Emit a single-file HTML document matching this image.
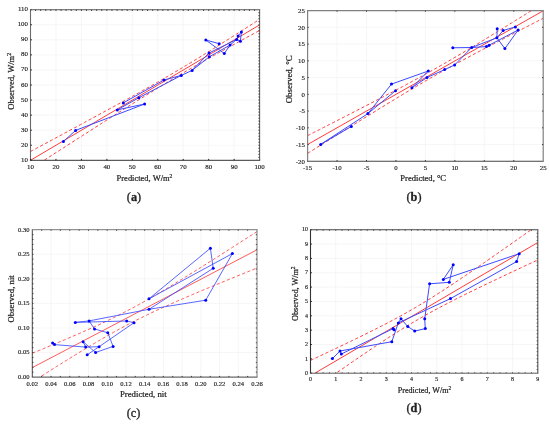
<!DOCTYPE html>
<html><head><meta charset="utf-8"><style>
html,body{margin:0;padding:0;background:#fff;}
svg{display:block;filter:blur(0.35px);}
</style></head><body>
<svg width="550" height="424" viewBox="0 0 550 424" font-family="'Liberation Serif', 'DejaVu Serif', serif" fill="#222">
<style>text{stroke:#222;stroke-width:0.16px;} text.t{stroke-width:0.22px;} text.p{stroke-width:0.3px;}</style>
<rect width="550" height="424" fill="#fff"/>
<clipPath id="ca"><rect x="30.5" y="9.7" width="229.10000000000002" height="150.60000000000002"/></clipPath>
<line x1="55.96" y1="9.7" x2="55.96" y2="160.3" stroke="#f4f4f4" stroke-width="0.8"/>
<line x1="81.41" y1="9.7" x2="81.41" y2="160.3" stroke="#f4f4f4" stroke-width="0.8"/>
<line x1="106.87" y1="9.7" x2="106.87" y2="160.3" stroke="#f4f4f4" stroke-width="0.8"/>
<line x1="132.32" y1="9.7" x2="132.32" y2="160.3" stroke="#f4f4f4" stroke-width="0.8"/>
<line x1="157.78" y1="9.7" x2="157.78" y2="160.3" stroke="#f4f4f4" stroke-width="0.8"/>
<line x1="183.23" y1="9.7" x2="183.23" y2="160.3" stroke="#f4f4f4" stroke-width="0.8"/>
<line x1="208.69" y1="9.7" x2="208.69" y2="160.3" stroke="#f4f4f4" stroke-width="0.8"/>
<line x1="234.14" y1="9.7" x2="234.14" y2="160.3" stroke="#f4f4f4" stroke-width="0.8"/>
<line x1="30.5" y1="145.24" x2="259.6" y2="145.24" stroke="#f4f4f4" stroke-width="0.8"/>
<line x1="30.5" y1="130.18" x2="259.6" y2="130.18" stroke="#f4f4f4" stroke-width="0.8"/>
<line x1="30.5" y1="115.12" x2="259.6" y2="115.12" stroke="#f4f4f4" stroke-width="0.8"/>
<line x1="30.5" y1="100.06" x2="259.6" y2="100.06" stroke="#f4f4f4" stroke-width="0.8"/>
<line x1="30.5" y1="85.00" x2="259.6" y2="85.00" stroke="#f4f4f4" stroke-width="0.8"/>
<line x1="30.5" y1="69.94" x2="259.6" y2="69.94" stroke="#f4f4f4" stroke-width="0.8"/>
<line x1="30.5" y1="54.88" x2="259.6" y2="54.88" stroke="#f4f4f4" stroke-width="0.8"/>
<line x1="30.5" y1="39.82" x2="259.6" y2="39.82" stroke="#f4f4f4" stroke-width="0.8"/>
<line x1="30.5" y1="24.76" x2="259.6" y2="24.76" stroke="#f4f4f4" stroke-width="0.8"/>
<line x1="30.5" y1="160.3" x2="259.6" y2="24.9" stroke="#ff3c3c" stroke-width="1.0" clip-path="url(#ca)"/>
<polyline points="30.50,151.52 32.43,150.49 34.35,149.45 36.28,148.42 38.20,147.39 40.13,146.35 42.05,145.32 43.98,144.28 45.90,143.25 47.83,142.21 49.75,141.18 51.68,140.14 53.60,139.11 55.53,138.07 57.45,137.04 59.38,136.00 61.30,134.96 63.23,133.93 65.15,132.89 67.08,131.85 69.00,130.81 70.93,129.78 72.85,128.74 74.78,127.70 76.71,126.66 78.63,125.62 80.56,124.58 82.48,123.54 84.41,122.50 86.33,121.46 88.26,120.42 90.18,119.38 92.11,118.33 94.03,117.29 95.96,116.25 97.88,115.20 99.81,114.16 101.73,113.11 103.66,112.07 105.58,111.02 107.51,109.97 109.43,108.92 111.36,107.87 113.28,106.82 115.21,105.77 117.13,104.72 119.06,103.66 120.98,102.61 122.91,101.55 124.84,100.49 126.76,99.43 128.69,98.37 130.61,97.31 132.54,96.25 134.46,95.18 136.39,94.11 138.31,93.04 140.24,91.97 142.16,90.90 144.09,89.82 146.01,88.74 147.94,87.66 149.86,86.58 151.79,85.49 153.71,84.40 155.64,83.30 157.56,82.20 159.49,81.10 161.41,80.00 163.34,78.89 165.26,77.78 167.19,76.66 169.12,75.54 171.04,74.42 172.97,73.29 174.89,72.15 176.82,71.02 178.74,69.87 180.67,68.73 182.59,67.58 184.52,66.42 186.44,65.26 188.37,64.10 190.29,62.93 192.22,61.76 194.14,60.59 196.07,59.41 197.99,58.23 199.92,57.05 201.84,55.86 203.77,54.67 205.69,53.47 207.62,52.28 209.54,51.08 211.47,49.88 213.39,48.67 215.32,47.47 217.25,46.26 219.17,45.05 221.10,43.84 223.02,42.63 224.95,41.41 226.87,40.20 228.80,38.98 230.72,37.76 232.65,36.54 234.57,35.32 236.50,34.09 238.42,32.87 240.35,31.64 242.27,30.42 244.20,29.19 246.12,27.96 248.05,26.74 249.97,25.51 251.90,24.28 253.82,23.05 255.75,21.81 257.67,20.58 259.60,19.35" fill="none" stroke="#ff3c3c" stroke-width="1.0" stroke-dasharray="3.2,2.3" clip-path="url(#ca)"/>
<polyline points="30.50,169.08 32.43,167.84 34.35,166.60 36.28,165.35 38.20,164.11 40.13,162.87 42.05,161.63 43.98,160.39 45.90,159.15 47.83,157.91 49.75,156.67 51.68,155.43 53.60,154.19 55.53,152.95 57.45,151.71 59.38,150.47 61.30,149.23 63.23,147.99 65.15,146.75 67.08,145.51 69.00,144.27 70.93,143.04 72.85,141.80 74.78,140.56 76.71,139.32 78.63,138.09 80.56,136.85 82.48,135.62 84.41,134.38 86.33,133.15 88.26,131.91 90.18,130.68 92.11,129.45 94.03,128.21 95.96,126.98 97.88,125.75 99.81,124.52 101.73,123.29 103.66,122.06 105.58,120.83 107.51,119.60 109.43,118.38 111.36,117.15 113.28,115.93 115.21,114.70 117.13,113.48 119.06,112.26 120.98,111.04 122.91,109.82 124.84,108.60 126.76,107.38 128.69,106.17 130.61,104.96 132.54,103.74 134.46,102.53 136.39,101.33 138.31,100.12 140.24,98.92 142.16,97.72 144.09,96.52 146.01,95.32 147.94,94.13 149.86,92.94 151.79,91.75 153.71,90.56 155.64,89.38 157.56,88.20 159.49,87.03 161.41,85.86 163.34,84.69 165.26,83.53 167.19,82.37 169.12,81.21 171.04,80.06 172.97,78.92 174.89,77.77 176.82,76.64 178.74,75.50 180.67,74.37 182.59,73.25 184.52,72.13 186.44,71.01 188.37,69.90 190.29,68.79 192.22,67.68 194.14,66.58 196.07,65.48 197.99,64.39 199.92,63.30 201.84,62.21 203.77,61.13 205.69,60.04 207.62,58.96 209.54,57.89 211.47,56.81 213.39,55.74 215.32,54.67 217.25,53.60 219.17,52.54 221.10,51.47 223.02,50.41 224.95,49.35 226.87,48.29 228.80,47.23 230.72,46.18 232.65,45.12 234.57,44.07 236.50,43.01 238.42,41.96 240.35,40.91 242.27,39.86 244.20,38.81 246.12,37.77 248.05,36.72 249.97,35.67 251.90,34.63 253.82,33.58 255.75,32.54 257.67,31.49 259.60,30.45" fill="none" stroke="#ff3c3c" stroke-width="1.0" stroke-dasharray="3.2,2.3" clip-path="url(#ca)"/>
<polyline points="63.40,141.60 75.60,130.40 144.60,104.00 117.30,109.90 138.90,97.70 181.30,75.40 192.10,70.40 209.30,56.80 230.10,45.00 236.70,39.40 238.10,35.90 241.40,32.00 240.40,41.20 236.70,39.40" fill="none" stroke="#3b4bff" stroke-width="1.0" stroke-linejoin="round"/>
<polyline points="123.30,102.90 164.00,80.00 181.30,75.40" fill="none" stroke="#3b4bff" stroke-width="1.0" stroke-linejoin="round"/>
<polyline points="192.10,70.40 209.00,53.00 236.70,39.40" fill="none" stroke="#3b4bff" stroke-width="1.0" stroke-linejoin="round"/>
<polyline points="205.80,40.00 219.20,43.70" fill="none" stroke="#3b4bff" stroke-width="1.0" stroke-linejoin="round"/>
<polyline points="205.80,40.00 224.30,53.50 230.10,45.00" fill="none" stroke="#3b4bff" stroke-width="1.0" stroke-linejoin="round"/>
<circle cx="63.40" cy="141.60" r="1.5" fill="#0000ff"/>
<circle cx="75.60" cy="130.40" r="1.5" fill="#0000ff"/>
<circle cx="117.30" cy="109.90" r="1.5" fill="#0000ff"/>
<circle cx="123.30" cy="102.90" r="1.5" fill="#0000ff"/>
<circle cx="144.60" cy="104.00" r="1.5" fill="#0000ff"/>
<circle cx="138.90" cy="97.70" r="1.5" fill="#0000ff"/>
<circle cx="164.00" cy="80.00" r="1.5" fill="#0000ff"/>
<circle cx="181.30" cy="75.40" r="1.5" fill="#0000ff"/>
<circle cx="192.10" cy="70.40" r="1.5" fill="#0000ff"/>
<circle cx="209.00" cy="53.00" r="1.5" fill="#0000ff"/>
<circle cx="209.30" cy="56.80" r="1.5" fill="#0000ff"/>
<circle cx="205.80" cy="40.00" r="1.5" fill="#0000ff"/>
<circle cx="219.20" cy="43.70" r="1.5" fill="#0000ff"/>
<circle cx="224.30" cy="53.50" r="1.5" fill="#0000ff"/>
<circle cx="230.10" cy="45.00" r="1.5" fill="#0000ff"/>
<circle cx="236.70" cy="39.40" r="1.5" fill="#0000ff"/>
<circle cx="238.10" cy="35.90" r="1.5" fill="#0000ff"/>
<circle cx="241.40" cy="32.00" r="1.5" fill="#0000ff"/>
<circle cx="240.40" cy="41.20" r="1.5" fill="#0000ff"/>
<line x1="30.5" y1="9.7" x2="30.5" y2="160.3" stroke="#6a6a6a" stroke-width="1.1"/>
<line x1="30.5" y1="160.30" x2="31.9" y2="160.30" stroke="#222" stroke-width="1.0"/>
<line x1="30.5" y1="145.24" x2="31.9" y2="145.24" stroke="#222" stroke-width="1.0"/>
<line x1="30.5" y1="130.18" x2="31.9" y2="130.18" stroke="#222" stroke-width="1.0"/>
<line x1="30.5" y1="115.12" x2="31.9" y2="115.12" stroke="#222" stroke-width="1.0"/>
<line x1="30.5" y1="100.06" x2="31.9" y2="100.06" stroke="#222" stroke-width="1.0"/>
<line x1="30.5" y1="85.00" x2="31.9" y2="85.00" stroke="#222" stroke-width="1.0"/>
<line x1="30.5" y1="69.94" x2="31.9" y2="69.94" stroke="#222" stroke-width="1.0"/>
<line x1="30.5" y1="54.88" x2="31.9" y2="54.88" stroke="#222" stroke-width="1.0"/>
<line x1="30.5" y1="39.82" x2="31.9" y2="39.82" stroke="#222" stroke-width="1.0"/>
<line x1="30.5" y1="24.76" x2="31.9" y2="24.76" stroke="#222" stroke-width="1.0"/>
<line x1="30.5" y1="9.70" x2="31.9" y2="9.70" stroke="#222" stroke-width="1.0"/>
<line x1="29.95" y1="160.3" x2="260.15000000000003" y2="160.3" stroke="#333" stroke-width="1.0"/>
<line x1="30.50" y1="160.3" x2="30.50" y2="158.9" stroke="#222" stroke-width="1.0"/>
<line x1="55.96" y1="160.3" x2="55.96" y2="158.9" stroke="#222" stroke-width="1.0"/>
<line x1="81.41" y1="160.3" x2="81.41" y2="158.9" stroke="#222" stroke-width="1.0"/>
<line x1="106.87" y1="160.3" x2="106.87" y2="158.9" stroke="#222" stroke-width="1.0"/>
<line x1="132.32" y1="160.3" x2="132.32" y2="158.9" stroke="#222" stroke-width="1.0"/>
<line x1="157.78" y1="160.3" x2="157.78" y2="158.9" stroke="#222" stroke-width="1.0"/>
<line x1="183.23" y1="160.3" x2="183.23" y2="158.9" stroke="#222" stroke-width="1.0"/>
<line x1="208.69" y1="160.3" x2="208.69" y2="158.9" stroke="#222" stroke-width="1.0"/>
<line x1="234.14" y1="160.3" x2="234.14" y2="158.9" stroke="#222" stroke-width="1.0"/>
<line x1="259.60" y1="160.3" x2="259.60" y2="158.9" stroke="#222" stroke-width="1.0"/>
<line x1="259.6" y1="9.7" x2="259.6" y2="160.3" stroke="#666" stroke-width="1.1"/>
<line x1="259.6" y1="157.29" x2="258.40000000000003" y2="157.29" stroke="#222" stroke-width="0.9"/>
<line x1="259.6" y1="154.28" x2="258.40000000000003" y2="154.28" stroke="#222" stroke-width="0.9"/>
<line x1="259.6" y1="151.26" x2="258.40000000000003" y2="151.26" stroke="#222" stroke-width="0.9"/>
<line x1="259.6" y1="148.25" x2="258.40000000000003" y2="148.25" stroke="#222" stroke-width="0.9"/>
<line x1="259.6" y1="145.24" x2="258.40000000000003" y2="145.24" stroke="#222" stroke-width="0.9"/>
<line x1="259.6" y1="142.23" x2="258.40000000000003" y2="142.23" stroke="#222" stroke-width="0.9"/>
<line x1="259.6" y1="139.22" x2="258.40000000000003" y2="139.22" stroke="#222" stroke-width="0.9"/>
<line x1="259.6" y1="136.20" x2="258.40000000000003" y2="136.20" stroke="#222" stroke-width="0.9"/>
<line x1="259.6" y1="133.19" x2="258.40000000000003" y2="133.19" stroke="#222" stroke-width="0.9"/>
<line x1="259.6" y1="130.18" x2="258.40000000000003" y2="130.18" stroke="#222" stroke-width="0.9"/>
<line x1="259.6" y1="127.17" x2="258.40000000000003" y2="127.17" stroke="#222" stroke-width="0.9"/>
<line x1="259.6" y1="124.16" x2="258.40000000000003" y2="124.16" stroke="#222" stroke-width="0.9"/>
<line x1="259.6" y1="121.14" x2="258.40000000000003" y2="121.14" stroke="#222" stroke-width="0.9"/>
<line x1="259.6" y1="118.13" x2="258.40000000000003" y2="118.13" stroke="#222" stroke-width="0.9"/>
<line x1="259.6" y1="115.12" x2="258.40000000000003" y2="115.12" stroke="#222" stroke-width="0.9"/>
<line x1="259.6" y1="112.11" x2="258.40000000000003" y2="112.11" stroke="#222" stroke-width="0.9"/>
<line x1="259.6" y1="109.10" x2="258.40000000000003" y2="109.10" stroke="#222" stroke-width="0.9"/>
<line x1="259.6" y1="106.08" x2="258.40000000000003" y2="106.08" stroke="#222" stroke-width="0.9"/>
<line x1="259.6" y1="103.07" x2="258.40000000000003" y2="103.07" stroke="#222" stroke-width="0.9"/>
<line x1="259.6" y1="100.06" x2="258.40000000000003" y2="100.06" stroke="#222" stroke-width="0.9"/>
<line x1="259.6" y1="97.05" x2="258.40000000000003" y2="97.05" stroke="#222" stroke-width="0.9"/>
<line x1="259.6" y1="94.04" x2="258.40000000000003" y2="94.04" stroke="#222" stroke-width="0.9"/>
<line x1="259.6" y1="91.02" x2="258.40000000000003" y2="91.02" stroke="#222" stroke-width="0.9"/>
<line x1="259.6" y1="88.01" x2="258.40000000000003" y2="88.01" stroke="#222" stroke-width="0.9"/>
<line x1="259.6" y1="85.00" x2="258.40000000000003" y2="85.00" stroke="#222" stroke-width="0.9"/>
<line x1="259.6" y1="81.99" x2="258.40000000000003" y2="81.99" stroke="#222" stroke-width="0.9"/>
<line x1="259.6" y1="78.98" x2="258.40000000000003" y2="78.98" stroke="#222" stroke-width="0.9"/>
<line x1="259.6" y1="75.96" x2="258.40000000000003" y2="75.96" stroke="#222" stroke-width="0.9"/>
<line x1="259.6" y1="72.95" x2="258.40000000000003" y2="72.95" stroke="#222" stroke-width="0.9"/>
<line x1="259.6" y1="69.94" x2="258.40000000000003" y2="69.94" stroke="#222" stroke-width="0.9"/>
<line x1="259.6" y1="66.93" x2="258.40000000000003" y2="66.93" stroke="#222" stroke-width="0.9"/>
<line x1="259.6" y1="63.92" x2="258.40000000000003" y2="63.92" stroke="#222" stroke-width="0.9"/>
<line x1="259.6" y1="60.90" x2="258.40000000000003" y2="60.90" stroke="#222" stroke-width="0.9"/>
<line x1="259.6" y1="57.89" x2="258.40000000000003" y2="57.89" stroke="#222" stroke-width="0.9"/>
<line x1="259.6" y1="54.88" x2="258.40000000000003" y2="54.88" stroke="#222" stroke-width="0.9"/>
<line x1="259.6" y1="51.87" x2="258.40000000000003" y2="51.87" stroke="#222" stroke-width="0.9"/>
<line x1="259.6" y1="48.86" x2="258.40000000000003" y2="48.86" stroke="#222" stroke-width="0.9"/>
<line x1="259.6" y1="45.84" x2="258.40000000000003" y2="45.84" stroke="#222" stroke-width="0.9"/>
<line x1="259.6" y1="42.83" x2="258.40000000000003" y2="42.83" stroke="#222" stroke-width="0.9"/>
<line x1="259.6" y1="39.82" x2="258.40000000000003" y2="39.82" stroke="#222" stroke-width="0.9"/>
<line x1="259.6" y1="36.81" x2="258.40000000000003" y2="36.81" stroke="#222" stroke-width="0.9"/>
<line x1="259.6" y1="33.80" x2="258.40000000000003" y2="33.80" stroke="#222" stroke-width="0.9"/>
<line x1="259.6" y1="30.78" x2="258.40000000000003" y2="30.78" stroke="#222" stroke-width="0.9"/>
<line x1="259.6" y1="27.77" x2="258.40000000000003" y2="27.77" stroke="#222" stroke-width="0.9"/>
<line x1="259.6" y1="24.76" x2="258.40000000000003" y2="24.76" stroke="#222" stroke-width="0.9"/>
<line x1="259.6" y1="21.75" x2="258.40000000000003" y2="21.75" stroke="#222" stroke-width="0.9"/>
<line x1="259.6" y1="18.74" x2="258.40000000000003" y2="18.74" stroke="#222" stroke-width="0.9"/>
<line x1="259.6" y1="15.72" x2="258.40000000000003" y2="15.72" stroke="#222" stroke-width="0.9"/>
<line x1="259.6" y1="12.71" x2="258.40000000000003" y2="12.71" stroke="#222" stroke-width="0.9"/>
<line x1="29.95" y1="9.7" x2="260.15000000000003" y2="9.7" stroke="#555" stroke-width="1.1"/>
<line x1="35.59" y1="9.7" x2="35.59" y2="10.899999999999999" stroke="#222" stroke-width="0.9"/>
<line x1="40.68" y1="9.7" x2="40.68" y2="10.899999999999999" stroke="#222" stroke-width="0.9"/>
<line x1="45.77" y1="9.7" x2="45.77" y2="10.899999999999999" stroke="#222" stroke-width="0.9"/>
<line x1="50.86" y1="9.7" x2="50.86" y2="10.899999999999999" stroke="#222" stroke-width="0.9"/>
<line x1="55.96" y1="9.7" x2="55.96" y2="10.899999999999999" stroke="#222" stroke-width="0.9"/>
<line x1="61.05" y1="9.7" x2="61.05" y2="10.899999999999999" stroke="#222" stroke-width="0.9"/>
<line x1="66.14" y1="9.7" x2="66.14" y2="10.899999999999999" stroke="#222" stroke-width="0.9"/>
<line x1="71.23" y1="9.7" x2="71.23" y2="10.899999999999999" stroke="#222" stroke-width="0.9"/>
<line x1="76.32" y1="9.7" x2="76.32" y2="10.899999999999999" stroke="#222" stroke-width="0.9"/>
<line x1="81.41" y1="9.7" x2="81.41" y2="10.899999999999999" stroke="#222" stroke-width="0.9"/>
<line x1="86.50" y1="9.7" x2="86.50" y2="10.899999999999999" stroke="#222" stroke-width="0.9"/>
<line x1="91.59" y1="9.7" x2="91.59" y2="10.899999999999999" stroke="#222" stroke-width="0.9"/>
<line x1="96.68" y1="9.7" x2="96.68" y2="10.899999999999999" stroke="#222" stroke-width="0.9"/>
<line x1="101.78" y1="9.7" x2="101.78" y2="10.899999999999999" stroke="#222" stroke-width="0.9"/>
<line x1="106.87" y1="9.7" x2="106.87" y2="10.899999999999999" stroke="#222" stroke-width="0.9"/>
<line x1="111.96" y1="9.7" x2="111.96" y2="10.899999999999999" stroke="#222" stroke-width="0.9"/>
<line x1="117.05" y1="9.7" x2="117.05" y2="10.899999999999999" stroke="#222" stroke-width="0.9"/>
<line x1="122.14" y1="9.7" x2="122.14" y2="10.899999999999999" stroke="#222" stroke-width="0.9"/>
<line x1="127.23" y1="9.7" x2="127.23" y2="10.899999999999999" stroke="#222" stroke-width="0.9"/>
<line x1="132.32" y1="9.7" x2="132.32" y2="10.899999999999999" stroke="#222" stroke-width="0.9"/>
<line x1="137.41" y1="9.7" x2="137.41" y2="10.899999999999999" stroke="#222" stroke-width="0.9"/>
<line x1="142.50" y1="9.7" x2="142.50" y2="10.899999999999999" stroke="#222" stroke-width="0.9"/>
<line x1="147.60" y1="9.7" x2="147.60" y2="10.899999999999999" stroke="#222" stroke-width="0.9"/>
<line x1="152.69" y1="9.7" x2="152.69" y2="10.899999999999999" stroke="#222" stroke-width="0.9"/>
<line x1="157.78" y1="9.7" x2="157.78" y2="10.899999999999999" stroke="#222" stroke-width="0.9"/>
<line x1="162.87" y1="9.7" x2="162.87" y2="10.899999999999999" stroke="#222" stroke-width="0.9"/>
<line x1="167.96" y1="9.7" x2="167.96" y2="10.899999999999999" stroke="#222" stroke-width="0.9"/>
<line x1="173.05" y1="9.7" x2="173.05" y2="10.899999999999999" stroke="#222" stroke-width="0.9"/>
<line x1="178.14" y1="9.7" x2="178.14" y2="10.899999999999999" stroke="#222" stroke-width="0.9"/>
<line x1="183.23" y1="9.7" x2="183.23" y2="10.899999999999999" stroke="#222" stroke-width="0.9"/>
<line x1="188.32" y1="9.7" x2="188.32" y2="10.899999999999999" stroke="#222" stroke-width="0.9"/>
<line x1="193.42" y1="9.7" x2="193.42" y2="10.899999999999999" stroke="#222" stroke-width="0.9"/>
<line x1="198.51" y1="9.7" x2="198.51" y2="10.899999999999999" stroke="#222" stroke-width="0.9"/>
<line x1="203.60" y1="9.7" x2="203.60" y2="10.899999999999999" stroke="#222" stroke-width="0.9"/>
<line x1="208.69" y1="9.7" x2="208.69" y2="10.899999999999999" stroke="#222" stroke-width="0.9"/>
<line x1="213.78" y1="9.7" x2="213.78" y2="10.899999999999999" stroke="#222" stroke-width="0.9"/>
<line x1="218.87" y1="9.7" x2="218.87" y2="10.899999999999999" stroke="#222" stroke-width="0.9"/>
<line x1="223.96" y1="9.7" x2="223.96" y2="10.899999999999999" stroke="#222" stroke-width="0.9"/>
<line x1="229.05" y1="9.7" x2="229.05" y2="10.899999999999999" stroke="#222" stroke-width="0.9"/>
<line x1="234.14" y1="9.7" x2="234.14" y2="10.899999999999999" stroke="#222" stroke-width="0.9"/>
<line x1="239.24" y1="9.7" x2="239.24" y2="10.899999999999999" stroke="#222" stroke-width="0.9"/>
<line x1="244.33" y1="9.7" x2="244.33" y2="10.899999999999999" stroke="#222" stroke-width="0.9"/>
<line x1="249.42" y1="9.7" x2="249.42" y2="10.899999999999999" stroke="#222" stroke-width="0.9"/>
<line x1="254.51" y1="9.7" x2="254.51" y2="10.899999999999999" stroke="#222" stroke-width="0.9"/>
<text x="30.50" y="169.0" font-size="6.9" text-anchor="middle">10</text>
<text x="55.96" y="169.0" font-size="6.9" text-anchor="middle">20</text>
<text x="81.41" y="169.0" font-size="6.9" text-anchor="middle">30</text>
<text x="106.87" y="169.0" font-size="6.9" text-anchor="middle">40</text>
<text x="132.32" y="169.0" font-size="6.9" text-anchor="middle">50</text>
<text x="157.78" y="169.0" font-size="6.9" text-anchor="middle">60</text>
<text x="183.23" y="169.0" font-size="6.9" text-anchor="middle">70</text>
<text x="208.69" y="169.0" font-size="6.9" text-anchor="middle">80</text>
<text x="234.14" y="169.0" font-size="6.9" text-anchor="middle">90</text>
<text x="259.60" y="169.0" font-size="6.9" text-anchor="middle">100</text>
<text x="28.0" y="161.80" font-size="6.9" text-anchor="end">10</text>
<text x="28.0" y="146.74" font-size="6.9" text-anchor="end">20</text>
<text x="28.0" y="131.68" font-size="6.9" text-anchor="end">30</text>
<text x="28.0" y="116.62" font-size="6.9" text-anchor="end">40</text>
<text x="28.0" y="101.56" font-size="6.9" text-anchor="end">50</text>
<text x="28.0" y="86.50" font-size="6.9" text-anchor="end">60</text>
<text x="28.0" y="71.44" font-size="6.9" text-anchor="end">70</text>
<text x="28.0" y="56.38" font-size="6.9" text-anchor="end">80</text>
<text x="28.0" y="41.32" font-size="6.9" text-anchor="end">90</text>
<text x="28.0" y="26.26" font-size="6.9" text-anchor="end">100</text>
<text x="28.0" y="11.20" font-size="6.9" text-anchor="end">110</text>
<text class="t" x="144.5" y="181" font-size="8.3" text-anchor="middle" textLength="55.8" lengthAdjust="spacingAndGlyphs">Predicted, W/m<tspan font-size="5.5" dy="-3">2</tspan></text>
<text class="t" transform="translate(14.2,81.3) rotate(-90)" font-size="8.3" text-anchor="middle" textLength="56.8" lengthAdjust="spacingAndGlyphs">Observed, W/m<tspan font-size="5.5" dy="-3">2</tspan></text>
<text class="p" x="134" y="201.2" font-size="12.3" text-anchor="middle" stroke="#222" stroke-width="0.2">(<tspan font-weight="bold">a</tspan>)</text>
<clipPath id="cb"><rect x="307.6" y="10.6" width="235.60000000000002" height="150.70000000000002"/></clipPath>
<line x1="337.05" y1="10.6" x2="337.05" y2="161.3" stroke="#f4f4f4" stroke-width="0.8"/>
<line x1="366.50" y1="10.6" x2="366.50" y2="161.3" stroke="#f4f4f4" stroke-width="0.8"/>
<line x1="395.95" y1="10.6" x2="395.95" y2="161.3" stroke="#f4f4f4" stroke-width="0.8"/>
<line x1="425.40" y1="10.6" x2="425.40" y2="161.3" stroke="#f4f4f4" stroke-width="0.8"/>
<line x1="454.85" y1="10.6" x2="454.85" y2="161.3" stroke="#f4f4f4" stroke-width="0.8"/>
<line x1="484.30" y1="10.6" x2="484.30" y2="161.3" stroke="#f4f4f4" stroke-width="0.8"/>
<line x1="513.75" y1="10.6" x2="513.75" y2="161.3" stroke="#f4f4f4" stroke-width="0.8"/>
<line x1="307.6" y1="144.56" x2="543.2" y2="144.56" stroke="#f4f4f4" stroke-width="0.8"/>
<line x1="307.6" y1="127.81" x2="543.2" y2="127.81" stroke="#f4f4f4" stroke-width="0.8"/>
<line x1="307.6" y1="111.07" x2="543.2" y2="111.07" stroke="#f4f4f4" stroke-width="0.8"/>
<line x1="307.6" y1="94.32" x2="543.2" y2="94.32" stroke="#f4f4f4" stroke-width="0.8"/>
<line x1="307.6" y1="77.58" x2="543.2" y2="77.58" stroke="#f4f4f4" stroke-width="0.8"/>
<line x1="307.6" y1="60.83" x2="543.2" y2="60.83" stroke="#f4f4f4" stroke-width="0.8"/>
<line x1="307.6" y1="44.09" x2="543.2" y2="44.09" stroke="#f4f4f4" stroke-width="0.8"/>
<line x1="307.6" y1="27.34" x2="543.2" y2="27.34" stroke="#f4f4f4" stroke-width="0.8"/>
<line x1="307.6" y1="144.5" x2="543.2" y2="10.8" stroke="#ff3c3c" stroke-width="1.0" clip-path="url(#cb)"/>
<polyline points="307.60,135.64 309.58,134.63 311.56,133.62 313.54,132.61 315.52,131.61 317.50,130.60 319.48,129.59 321.46,128.58 323.44,127.57 325.42,126.56 327.40,125.55 329.38,124.54 331.36,123.53 333.34,122.52 335.32,121.50 337.30,120.49 339.28,119.48 341.26,118.47 343.24,117.45 345.22,116.44 347.20,115.42 349.18,114.41 351.16,113.39 353.14,112.37 355.12,111.36 357.10,110.34 359.08,109.32 361.06,108.30 363.04,107.28 365.02,106.26 366.99,105.23 368.97,104.21 370.95,103.19 372.93,102.16 374.91,101.13 376.89,100.10 378.87,99.07 380.85,98.04 382.83,97.01 384.81,95.98 386.79,94.94 388.77,93.90 390.75,92.86 392.73,91.82 394.71,90.78 396.69,89.73 398.67,88.68 400.65,87.63 402.63,86.58 404.61,85.52 406.59,84.46 408.57,83.40 410.55,82.34 412.53,81.27 414.51,80.20 416.49,79.12 418.47,78.04 420.45,76.96 422.43,75.87 424.41,74.78 426.39,73.68 428.37,72.58 430.35,71.48 432.33,70.37 434.31,69.25 436.29,68.13 438.27,67.01 440.25,65.88 442.23,64.75 444.21,63.61 446.19,62.47 448.17,61.32 450.15,60.17 452.13,59.01 454.11,57.85 456.09,56.69 458.07,55.52 460.05,54.35 462.03,53.18 464.01,52.00 465.99,50.81 467.97,49.63 469.95,48.44 471.93,47.25 473.91,46.06 475.89,44.86 477.87,43.66 479.85,42.46 481.83,41.26 483.81,40.05 485.78,38.84 487.76,37.63 489.74,36.42 491.72,35.21 493.70,33.99 495.68,32.78 497.66,31.56 499.64,30.34 501.62,29.12 503.60,27.90 505.58,26.68 507.56,25.45 509.54,24.23 511.52,23.00 513.50,21.78 515.48,20.55 517.46,19.32 519.44,18.09 521.42,16.86 523.40,15.63 525.38,14.40 527.36,13.17 529.34,11.94 531.32,10.71 533.30,9.47 535.28,8.24 537.26,7.01 539.24,5.77 541.22,4.54 543.20,3.30" fill="none" stroke="#ff3c3c" stroke-width="1.0" stroke-dasharray="3.2,2.3" clip-path="url(#cb)"/>
<polyline points="307.60,153.36 309.58,152.12 311.56,150.88 313.54,149.64 315.52,148.41 317.50,147.17 319.48,145.93 321.46,144.69 323.44,143.45 325.42,142.22 327.40,140.98 329.38,139.74 331.36,138.51 333.34,137.27 335.32,136.04 337.30,134.80 339.28,133.57 341.26,132.33 343.24,131.10 345.22,129.87 347.20,128.64 349.18,127.40 351.16,126.17 353.14,124.94 355.12,123.71 357.10,122.48 359.08,121.26 361.06,120.03 363.04,118.80 365.02,117.58 366.99,116.35 368.97,115.13 370.95,113.91 372.93,112.69 374.91,111.47 376.89,110.25 378.87,109.03 380.85,107.82 382.83,106.60 384.81,105.39 386.79,104.18 388.77,102.97 390.75,101.76 392.73,100.55 394.71,99.35 396.69,98.15 398.67,96.95 400.65,95.75 402.63,94.56 404.61,93.37 406.59,92.18 408.57,91.00 410.55,89.82 412.53,88.64 414.51,87.46 416.49,86.29 418.47,85.12 420.45,83.96 422.43,82.80 424.41,81.65 426.39,80.49 428.37,79.35 430.35,78.21 432.33,77.07 434.31,75.94 436.29,74.81 438.27,73.68 440.25,72.57 442.23,71.45 444.21,70.34 446.19,69.24 448.17,68.14 450.15,67.04 452.13,65.95 454.11,64.86 456.09,63.78 458.07,62.70 460.05,61.63 462.03,60.55 464.01,59.49 465.99,58.42 467.97,57.36 469.95,56.30 471.93,55.24 473.91,54.19 475.89,53.14 477.87,52.09 479.85,51.05 481.83,50.00 483.81,48.96 485.78,47.92 487.76,46.89 489.74,45.85 491.72,44.82 493.70,43.78 495.68,42.75 497.66,41.72 499.64,40.69 501.62,39.67 503.60,38.64 505.58,37.62 507.56,36.59 509.54,35.57 511.52,34.55 513.50,33.53 515.48,32.51 517.46,31.49 519.44,30.47 521.42,29.45 523.40,28.44 525.38,27.42 527.36,26.40 529.34,25.39 531.32,24.38 533.30,23.36 535.28,22.35 537.26,21.34 539.24,20.32 541.22,19.31 543.20,18.30" fill="none" stroke="#ff3c3c" stroke-width="1.0" stroke-dasharray="3.2,2.3" clip-path="url(#cb)"/>
<polyline points="351.30,126.50 320.70,144.40 367.90,113.60 391.50,84.10 428.30,71.00 411.90,87.70 427.00,77.50 444.60,69.60 454.60,65.00 471.70,47.50 496.90,37.80 504.90,48.60 518.10,30.00 489.10,45.20 486.40,46.60" fill="none" stroke="#3b4bff" stroke-width="1.0" stroke-linejoin="round"/>
<polyline points="367.90,113.60 395.50,90.70" fill="none" stroke="#3b4bff" stroke-width="1.0" stroke-linejoin="round"/>
<polyline points="452.80,47.80 471.70,47.50 486.40,46.60" fill="none" stroke="#3b4bff" stroke-width="1.0" stroke-linejoin="round"/>
<polyline points="497.20,28.80 496.90,37.80 503.10,30.50 515.40,26.90" fill="none" stroke="#3b4bff" stroke-width="1.0" stroke-linejoin="round"/>
<circle cx="320.70" cy="144.40" r="1.5" fill="#0000ff"/>
<circle cx="351.30" cy="126.50" r="1.5" fill="#0000ff"/>
<circle cx="367.90" cy="113.60" r="1.5" fill="#0000ff"/>
<circle cx="391.50" cy="84.10" r="1.5" fill="#0000ff"/>
<circle cx="395.50" cy="90.70" r="1.5" fill="#0000ff"/>
<circle cx="411.90" cy="87.70" r="1.5" fill="#0000ff"/>
<circle cx="428.30" cy="71.00" r="1.5" fill="#0000ff"/>
<circle cx="427.00" cy="77.50" r="1.5" fill="#0000ff"/>
<circle cx="444.60" cy="69.60" r="1.5" fill="#0000ff"/>
<circle cx="454.60" cy="65.00" r="1.5" fill="#0000ff"/>
<circle cx="452.80" cy="47.80" r="1.5" fill="#0000ff"/>
<circle cx="471.70" cy="47.50" r="1.5" fill="#0000ff"/>
<circle cx="486.40" cy="46.60" r="1.5" fill="#0000ff"/>
<circle cx="489.10" cy="45.20" r="1.5" fill="#0000ff"/>
<circle cx="497.20" cy="28.80" r="1.5" fill="#0000ff"/>
<circle cx="496.90" cy="37.80" r="1.5" fill="#0000ff"/>
<circle cx="503.10" cy="30.50" r="1.5" fill="#0000ff"/>
<circle cx="504.90" cy="48.60" r="1.5" fill="#0000ff"/>
<circle cx="515.40" cy="26.90" r="1.5" fill="#0000ff"/>
<circle cx="518.10" cy="30.00" r="1.5" fill="#0000ff"/>
<line x1="307.6" y1="10.6" x2="307.6" y2="161.3" stroke="#808080" stroke-width="1.2"/>
<line x1="307.6" y1="144.56" x2="308.8" y2="144.56" stroke="#333" stroke-width="0.9"/>
<line x1="307.6" y1="127.81" x2="308.8" y2="127.81" stroke="#333" stroke-width="0.9"/>
<line x1="307.6" y1="111.07" x2="308.8" y2="111.07" stroke="#333" stroke-width="0.9"/>
<line x1="307.6" y1="94.32" x2="308.8" y2="94.32" stroke="#333" stroke-width="0.9"/>
<line x1="307.6" y1="77.58" x2="308.8" y2="77.58" stroke="#333" stroke-width="0.9"/>
<line x1="307.6" y1="60.83" x2="308.8" y2="60.83" stroke="#333" stroke-width="0.9"/>
<line x1="307.6" y1="44.09" x2="308.8" y2="44.09" stroke="#333" stroke-width="0.9"/>
<line x1="307.6" y1="27.34" x2="308.8" y2="27.34" stroke="#333" stroke-width="0.9"/>
<line x1="307.0" y1="161.3" x2="543.8000000000001" y2="161.3" stroke="#454545" stroke-width="1.1"/>
<line x1="337.05" y1="161.3" x2="337.05" y2="160.10000000000002" stroke="#222" stroke-width="0.9"/>
<line x1="366.50" y1="161.3" x2="366.50" y2="160.10000000000002" stroke="#222" stroke-width="0.9"/>
<line x1="395.95" y1="161.3" x2="395.95" y2="160.10000000000002" stroke="#222" stroke-width="0.9"/>
<line x1="425.40" y1="161.3" x2="425.40" y2="160.10000000000002" stroke="#222" stroke-width="0.9"/>
<line x1="454.85" y1="161.3" x2="454.85" y2="160.10000000000002" stroke="#222" stroke-width="0.9"/>
<line x1="484.30" y1="161.3" x2="484.30" y2="160.10000000000002" stroke="#222" stroke-width="0.9"/>
<line x1="513.75" y1="161.3" x2="513.75" y2="160.10000000000002" stroke="#222" stroke-width="0.9"/>
<line x1="543.2" y1="10.6" x2="543.2" y2="161.3" stroke="#808080" stroke-width="1.2"/>
<line x1="543.2" y1="144.56" x2="542.0" y2="144.56" stroke="#333" stroke-width="0.9"/>
<line x1="543.2" y1="127.81" x2="542.0" y2="127.81" stroke="#333" stroke-width="0.9"/>
<line x1="543.2" y1="111.07" x2="542.0" y2="111.07" stroke="#333" stroke-width="0.9"/>
<line x1="543.2" y1="94.32" x2="542.0" y2="94.32" stroke="#333" stroke-width="0.9"/>
<line x1="543.2" y1="77.58" x2="542.0" y2="77.58" stroke="#333" stroke-width="0.9"/>
<line x1="543.2" y1="60.83" x2="542.0" y2="60.83" stroke="#333" stroke-width="0.9"/>
<line x1="543.2" y1="44.09" x2="542.0" y2="44.09" stroke="#333" stroke-width="0.9"/>
<line x1="543.2" y1="27.34" x2="542.0" y2="27.34" stroke="#333" stroke-width="0.9"/>
<line x1="307.0" y1="10.6" x2="543.8000000000001" y2="10.6" stroke="#808080" stroke-width="1.2"/>
<line x1="337.05" y1="10.6" x2="337.05" y2="11.799999999999999" stroke="#333" stroke-width="0.9"/>
<line x1="366.50" y1="10.6" x2="366.50" y2="11.799999999999999" stroke="#333" stroke-width="0.9"/>
<line x1="395.95" y1="10.6" x2="395.95" y2="11.799999999999999" stroke="#333" stroke-width="0.9"/>
<line x1="425.40" y1="10.6" x2="425.40" y2="11.799999999999999" stroke="#333" stroke-width="0.9"/>
<line x1="454.85" y1="10.6" x2="454.85" y2="11.799999999999999" stroke="#333" stroke-width="0.9"/>
<line x1="484.30" y1="10.6" x2="484.30" y2="11.799999999999999" stroke="#333" stroke-width="0.9"/>
<line x1="513.75" y1="10.6" x2="513.75" y2="11.799999999999999" stroke="#333" stroke-width="0.9"/>
<text x="307.60" y="169.6" font-size="6.8" text-anchor="middle">-15</text>
<text x="337.05" y="169.6" font-size="6.8" text-anchor="middle">-10</text>
<text x="366.50" y="169.6" font-size="6.8" text-anchor="middle">-5</text>
<text x="395.95" y="169.6" font-size="6.8" text-anchor="middle">0</text>
<text x="425.40" y="169.6" font-size="6.8" text-anchor="middle">5</text>
<text x="454.85" y="169.6" font-size="6.8" text-anchor="middle">10</text>
<text x="484.30" y="169.6" font-size="6.8" text-anchor="middle">15</text>
<text x="513.75" y="169.6" font-size="6.8" text-anchor="middle">20</text>
<text x="543.20" y="169.6" font-size="6.8" text-anchor="middle">25</text>
<text x="304.9" y="163.70" font-size="6.8" text-anchor="end">-20</text>
<text x="304.9" y="146.96" font-size="6.8" text-anchor="end">-15</text>
<text x="304.9" y="130.21" font-size="6.8" text-anchor="end">-10</text>
<text x="304.9" y="113.47" font-size="6.8" text-anchor="end">-5</text>
<text x="304.9" y="96.72" font-size="6.8" text-anchor="end">0</text>
<text x="304.9" y="79.98" font-size="6.8" text-anchor="end">5</text>
<text x="304.9" y="63.23" font-size="6.8" text-anchor="end">10</text>
<text x="304.9" y="46.49" font-size="6.8" text-anchor="end">15</text>
<text x="304.9" y="29.74" font-size="6.8" text-anchor="end">20</text>
<text x="304.9" y="13.00" font-size="6.8" text-anchor="end">25</text>
<text class="t" x="423.2" y="181" font-size="8.3" text-anchor="middle" textLength="45.8" lengthAdjust="spacingAndGlyphs">Predicted, °C</text>
<text class="t" transform="translate(292.0,79.3) rotate(-90)" font-size="8.3" text-anchor="middle" textLength="48.0" lengthAdjust="spacingAndGlyphs">Observed, °C</text>
<text class="p" x="414" y="201.2" font-size="12.3" text-anchor="middle" stroke="#222" stroke-width="0.2">(<tspan font-weight="bold">b</tspan>)</text>
<clipPath id="cc"><rect x="32.3" y="229.7" width="224.7" height="147.40000000000003"/></clipPath>
<line x1="51.02" y1="229.7" x2="51.02" y2="377.1" stroke="#f4f4f4" stroke-width="0.8"/>
<line x1="69.75" y1="229.7" x2="69.75" y2="377.1" stroke="#f4f4f4" stroke-width="0.8"/>
<line x1="88.47" y1="229.7" x2="88.47" y2="377.1" stroke="#f4f4f4" stroke-width="0.8"/>
<line x1="107.20" y1="229.7" x2="107.20" y2="377.1" stroke="#f4f4f4" stroke-width="0.8"/>
<line x1="125.92" y1="229.7" x2="125.92" y2="377.1" stroke="#f4f4f4" stroke-width="0.8"/>
<line x1="144.65" y1="229.7" x2="144.65" y2="377.1" stroke="#f4f4f4" stroke-width="0.8"/>
<line x1="163.37" y1="229.7" x2="163.37" y2="377.1" stroke="#f4f4f4" stroke-width="0.8"/>
<line x1="182.10" y1="229.7" x2="182.10" y2="377.1" stroke="#f4f4f4" stroke-width="0.8"/>
<line x1="200.82" y1="229.7" x2="200.82" y2="377.1" stroke="#f4f4f4" stroke-width="0.8"/>
<line x1="219.55" y1="229.7" x2="219.55" y2="377.1" stroke="#f4f4f4" stroke-width="0.8"/>
<line x1="238.27" y1="229.7" x2="238.27" y2="377.1" stroke="#f4f4f4" stroke-width="0.8"/>
<line x1="32.3" y1="352.53" x2="257.0" y2="352.53" stroke="#f4f4f4" stroke-width="0.8"/>
<line x1="32.3" y1="327.97" x2="257.0" y2="327.97" stroke="#f4f4f4" stroke-width="0.8"/>
<line x1="32.3" y1="303.40" x2="257.0" y2="303.40" stroke="#f4f4f4" stroke-width="0.8"/>
<line x1="32.3" y1="278.83" x2="257.0" y2="278.83" stroke="#f4f4f4" stroke-width="0.8"/>
<line x1="32.3" y1="254.27" x2="257.0" y2="254.27" stroke="#f4f4f4" stroke-width="0.8"/>
<line x1="32.3" y1="367.6" x2="257.0" y2="249.8" stroke="#ff3c3c" stroke-width="0.85" clip-path="url(#cc)"/>
<polyline points="32.30,353.26 34.19,352.49 36.08,351.71 37.96,350.93 39.85,350.15 41.74,349.37 43.63,348.59 45.52,347.81 47.41,347.02 49.29,346.23 51.18,345.45 53.07,344.66 54.96,343.87 56.85,343.07 58.74,342.28 60.62,341.48 62.51,340.68 64.40,339.88 66.29,339.08 68.18,338.27 70.06,337.46 71.95,336.65 73.84,335.84 75.73,335.02 77.62,334.20 79.51,333.38 81.39,332.55 83.28,331.72 85.17,330.88 87.06,330.04 88.95,329.20 90.84,328.35 92.72,327.50 94.61,326.64 96.50,325.78 98.39,324.91 100.28,324.04 102.16,323.15 104.05,322.27 105.94,321.37 107.83,320.47 109.72,319.57 111.61,318.65 113.49,317.73 115.38,316.80 117.27,315.86 119.16,314.92 121.05,313.96 122.94,313.00 124.82,312.03 126.71,311.05 128.60,310.06 130.49,309.07 132.38,308.06 134.26,307.05 136.15,306.03 138.04,305.00 139.93,303.96 141.82,302.91 143.71,301.86 145.59,300.79 147.48,299.73 149.37,298.65 151.26,297.57 153.15,296.48 155.04,295.38 156.92,294.28 158.81,293.17 160.70,292.05 162.59,290.93 164.48,289.81 166.36,288.68 168.25,287.55 170.14,286.41 172.03,285.26 173.92,284.12 175.81,282.97 177.69,281.81 179.58,280.65 181.47,279.49 183.36,278.33 185.25,277.16 187.14,275.99 189.02,274.82 190.91,273.64 192.80,272.47 194.69,271.29 196.58,270.10 198.46,268.92 200.35,267.73 202.24,266.55 204.13,265.36 206.02,264.17 207.91,262.97 209.79,261.78 211.68,260.58 213.57,259.39 215.46,258.19 217.35,256.99 219.24,255.79 221.12,254.58 223.01,253.38 224.90,252.18 226.79,250.97 228.68,249.77 230.56,248.56 232.45,247.35 234.34,246.14 236.23,244.93 238.12,243.72 240.01,242.51 241.89,241.30 243.78,240.09 245.67,238.87 247.56,237.66 249.45,236.45 251.34,235.23 253.22,234.02 255.11,232.80 257.00,231.58" fill="none" stroke="#ff3c3c" stroke-width="0.85" stroke-dasharray="3.2,2.3" clip-path="url(#cc)"/>
<polyline points="32.30,381.94 34.19,380.73 36.08,379.53 37.96,378.33 39.85,377.13 41.74,375.93 43.63,374.73 45.52,373.54 47.41,372.34 49.29,371.15 51.18,369.96 53.07,368.76 54.96,367.58 56.85,366.39 58.74,365.20 60.62,364.02 62.51,362.84 64.40,361.66 66.29,360.49 68.18,359.31 70.06,358.14 71.95,356.97 73.84,355.81 75.73,354.64 77.62,353.48 79.51,352.33 81.39,351.18 83.28,350.03 85.17,348.88 87.06,347.74 88.95,346.61 90.84,345.47 92.72,344.35 94.61,343.22 96.50,342.11 98.39,341.00 100.28,339.89 102.16,338.79 104.05,337.70 105.94,336.61 107.83,335.53 109.72,334.46 111.61,333.39 113.49,332.34 115.38,331.29 117.27,330.24 119.16,329.21 121.05,328.18 122.94,327.17 124.82,326.16 126.71,325.16 128.60,324.17 130.49,323.18 132.38,322.21 134.26,321.24 136.15,320.28 138.04,319.33 139.93,318.39 141.82,317.46 143.71,316.53 145.59,315.62 147.48,314.70 149.37,313.80 151.26,312.90 153.15,312.02 155.04,311.13 156.92,310.25 158.81,309.38 160.70,308.52 162.59,307.66 164.48,306.80 166.36,305.95 168.25,305.11 170.14,304.27 172.03,303.43 173.92,302.60 175.81,301.77 177.69,300.94 179.58,300.12 181.47,299.30 183.36,298.49 185.25,297.67 187.14,296.86 189.02,296.06 190.91,295.25 192.80,294.45 194.69,293.65 196.58,292.85 198.46,292.05 200.35,291.26 202.24,290.47 204.13,289.68 206.02,288.89 207.91,288.10 209.79,287.32 211.68,286.53 213.57,285.75 215.46,284.97 217.35,284.19 219.24,283.41 221.12,282.63 223.01,281.86 224.90,281.08 226.79,280.31 228.68,279.53 230.56,278.76 232.45,277.99 234.34,277.22 236.23,276.45 238.12,275.68 240.01,274.91 241.89,274.14 243.78,273.37 245.67,272.61 247.56,271.84 249.45,271.07 251.34,270.31 253.22,269.54 255.11,268.78 257.00,268.02" fill="none" stroke="#ff3c3c" stroke-width="0.85" stroke-dasharray="3.2,2.3" clip-path="url(#cc)"/>
<polyline points="52.60,342.90 54.50,344.60 85.70,347.10 99.10,346.70" fill="none" stroke="#3b4bff" stroke-width="0.85" stroke-linejoin="round"/>
<polyline points="83.10,341.70 85.70,347.10" fill="none" stroke="#3b4bff" stroke-width="0.85" stroke-linejoin="round"/>
<polyline points="83.10,341.70 95.60,352.50 113.10,346.40 107.80,332.80 94.50,328.90 89.10,320.90 75.30,322.40 126.70,321.00 134.00,322.70 99.10,346.70 87.20,354.80" fill="none" stroke="#3b4bff" stroke-width="0.85" stroke-linejoin="round"/>
<polyline points="89.10,320.90 149.00,309.30 205.70,300.20 232.40,253.60 149.00,298.80 210.40,248.20 213.20,268.30 149.00,309.30" fill="none" stroke="#3b4bff" stroke-width="0.85" stroke-linejoin="round"/>
<circle cx="52.60" cy="342.90" r="1.5" fill="#0000ff"/>
<circle cx="54.50" cy="344.60" r="1.5" fill="#0000ff"/>
<circle cx="75.30" cy="322.40" r="1.5" fill="#0000ff"/>
<circle cx="89.10" cy="320.90" r="1.5" fill="#0000ff"/>
<circle cx="94.50" cy="328.90" r="1.5" fill="#0000ff"/>
<circle cx="107.80" cy="332.80" r="1.5" fill="#0000ff"/>
<circle cx="83.10" cy="341.70" r="1.5" fill="#0000ff"/>
<circle cx="85.70" cy="347.10" r="1.5" fill="#0000ff"/>
<circle cx="99.10" cy="346.70" r="1.5" fill="#0000ff"/>
<circle cx="113.10" cy="346.40" r="1.5" fill="#0000ff"/>
<circle cx="95.60" cy="352.50" r="1.5" fill="#0000ff"/>
<circle cx="87.20" cy="354.80" r="1.5" fill="#0000ff"/>
<circle cx="126.70" cy="321.00" r="1.5" fill="#0000ff"/>
<circle cx="134.00" cy="322.70" r="1.5" fill="#0000ff"/>
<circle cx="149.00" cy="298.80" r="1.5" fill="#0000ff"/>
<circle cx="149.00" cy="309.30" r="1.5" fill="#0000ff"/>
<circle cx="210.40" cy="248.20" r="1.5" fill="#0000ff"/>
<circle cx="213.20" cy="268.30" r="1.5" fill="#0000ff"/>
<circle cx="232.40" cy="253.60" r="1.5" fill="#0000ff"/>
<circle cx="205.70" cy="300.20" r="1.5" fill="#0000ff"/>
<line x1="32.3" y1="229.7" x2="32.3" y2="377.1" stroke="#444" stroke-width="1.0"/>
<line x1="32.3" y1="372.19" x2="33.5" y2="372.19" stroke="#222" stroke-width="0.8"/>
<line x1="32.3" y1="367.27" x2="33.5" y2="367.27" stroke="#222" stroke-width="0.8"/>
<line x1="32.3" y1="362.36" x2="33.5" y2="362.36" stroke="#222" stroke-width="0.8"/>
<line x1="32.3" y1="357.45" x2="33.5" y2="357.45" stroke="#222" stroke-width="0.8"/>
<line x1="32.3" y1="352.53" x2="33.5" y2="352.53" stroke="#222" stroke-width="0.8"/>
<line x1="32.3" y1="347.62" x2="33.5" y2="347.62" stroke="#222" stroke-width="0.8"/>
<line x1="32.3" y1="342.71" x2="33.5" y2="342.71" stroke="#222" stroke-width="0.8"/>
<line x1="32.3" y1="337.79" x2="33.5" y2="337.79" stroke="#222" stroke-width="0.8"/>
<line x1="32.3" y1="332.88" x2="33.5" y2="332.88" stroke="#222" stroke-width="0.8"/>
<line x1="32.3" y1="327.97" x2="33.5" y2="327.97" stroke="#222" stroke-width="0.8"/>
<line x1="32.3" y1="323.05" x2="33.5" y2="323.05" stroke="#222" stroke-width="0.8"/>
<line x1="32.3" y1="318.14" x2="33.5" y2="318.14" stroke="#222" stroke-width="0.8"/>
<line x1="32.3" y1="313.23" x2="33.5" y2="313.23" stroke="#222" stroke-width="0.8"/>
<line x1="32.3" y1="308.31" x2="33.5" y2="308.31" stroke="#222" stroke-width="0.8"/>
<line x1="32.3" y1="303.40" x2="33.5" y2="303.40" stroke="#222" stroke-width="0.8"/>
<line x1="32.3" y1="298.49" x2="33.5" y2="298.49" stroke="#222" stroke-width="0.8"/>
<line x1="32.3" y1="293.57" x2="33.5" y2="293.57" stroke="#222" stroke-width="0.8"/>
<line x1="32.3" y1="288.66" x2="33.5" y2="288.66" stroke="#222" stroke-width="0.8"/>
<line x1="32.3" y1="283.75" x2="33.5" y2="283.75" stroke="#222" stroke-width="0.8"/>
<line x1="32.3" y1="278.83" x2="33.5" y2="278.83" stroke="#222" stroke-width="0.8"/>
<line x1="32.3" y1="273.92" x2="33.5" y2="273.92" stroke="#222" stroke-width="0.8"/>
<line x1="32.3" y1="269.01" x2="33.5" y2="269.01" stroke="#222" stroke-width="0.8"/>
<line x1="32.3" y1="264.09" x2="33.5" y2="264.09" stroke="#222" stroke-width="0.8"/>
<line x1="32.3" y1="259.18" x2="33.5" y2="259.18" stroke="#222" stroke-width="0.8"/>
<line x1="32.3" y1="254.27" x2="33.5" y2="254.27" stroke="#222" stroke-width="0.8"/>
<line x1="32.3" y1="249.35" x2="33.5" y2="249.35" stroke="#222" stroke-width="0.8"/>
<line x1="32.3" y1="244.44" x2="33.5" y2="244.44" stroke="#222" stroke-width="0.8"/>
<line x1="32.3" y1="239.53" x2="33.5" y2="239.53" stroke="#222" stroke-width="0.8"/>
<line x1="32.3" y1="234.61" x2="33.5" y2="234.61" stroke="#222" stroke-width="0.8"/>
<line x1="31.799999999999997" y1="377.1" x2="257.5" y2="377.1" stroke="#444" stroke-width="1.0"/>
<line x1="41.66" y1="377.1" x2="41.66" y2="375.90000000000003" stroke="#222" stroke-width="0.8"/>
<line x1="51.02" y1="377.1" x2="51.02" y2="375.90000000000003" stroke="#222" stroke-width="0.8"/>
<line x1="60.39" y1="377.1" x2="60.39" y2="375.90000000000003" stroke="#222" stroke-width="0.8"/>
<line x1="69.75" y1="377.1" x2="69.75" y2="375.90000000000003" stroke="#222" stroke-width="0.8"/>
<line x1="79.11" y1="377.1" x2="79.11" y2="375.90000000000003" stroke="#222" stroke-width="0.8"/>
<line x1="88.47" y1="377.1" x2="88.47" y2="375.90000000000003" stroke="#222" stroke-width="0.8"/>
<line x1="97.84" y1="377.1" x2="97.84" y2="375.90000000000003" stroke="#222" stroke-width="0.8"/>
<line x1="107.20" y1="377.1" x2="107.20" y2="375.90000000000003" stroke="#222" stroke-width="0.8"/>
<line x1="116.56" y1="377.1" x2="116.56" y2="375.90000000000003" stroke="#222" stroke-width="0.8"/>
<line x1="125.92" y1="377.1" x2="125.92" y2="375.90000000000003" stroke="#222" stroke-width="0.8"/>
<line x1="135.29" y1="377.1" x2="135.29" y2="375.90000000000003" stroke="#222" stroke-width="0.8"/>
<line x1="144.65" y1="377.1" x2="144.65" y2="375.90000000000003" stroke="#222" stroke-width="0.8"/>
<line x1="154.01" y1="377.1" x2="154.01" y2="375.90000000000003" stroke="#222" stroke-width="0.8"/>
<line x1="163.38" y1="377.1" x2="163.38" y2="375.90000000000003" stroke="#222" stroke-width="0.8"/>
<line x1="172.74" y1="377.1" x2="172.74" y2="375.90000000000003" stroke="#222" stroke-width="0.8"/>
<line x1="182.10" y1="377.1" x2="182.10" y2="375.90000000000003" stroke="#222" stroke-width="0.8"/>
<line x1="191.46" y1="377.1" x2="191.46" y2="375.90000000000003" stroke="#222" stroke-width="0.8"/>
<line x1="200.83" y1="377.1" x2="200.83" y2="375.90000000000003" stroke="#222" stroke-width="0.8"/>
<line x1="210.19" y1="377.1" x2="210.19" y2="375.90000000000003" stroke="#222" stroke-width="0.8"/>
<line x1="219.55" y1="377.1" x2="219.55" y2="375.90000000000003" stroke="#222" stroke-width="0.8"/>
<line x1="228.91" y1="377.1" x2="228.91" y2="375.90000000000003" stroke="#222" stroke-width="0.8"/>
<line x1="238.28" y1="377.1" x2="238.28" y2="375.90000000000003" stroke="#222" stroke-width="0.8"/>
<line x1="247.64" y1="377.1" x2="247.64" y2="375.90000000000003" stroke="#222" stroke-width="0.8"/>
<line x1="257.0" y1="229.7" x2="257.0" y2="377.1" stroke="#777" stroke-width="1.0"/>
<line x1="257.0" y1="372.19" x2="255.8" y2="372.19" stroke="#333" stroke-width="0.8"/>
<line x1="257.0" y1="367.27" x2="255.8" y2="367.27" stroke="#333" stroke-width="0.8"/>
<line x1="257.0" y1="362.36" x2="255.8" y2="362.36" stroke="#333" stroke-width="0.8"/>
<line x1="257.0" y1="357.45" x2="255.8" y2="357.45" stroke="#333" stroke-width="0.8"/>
<line x1="257.0" y1="352.53" x2="255.8" y2="352.53" stroke="#333" stroke-width="0.8"/>
<line x1="257.0" y1="347.62" x2="255.8" y2="347.62" stroke="#333" stroke-width="0.8"/>
<line x1="257.0" y1="342.71" x2="255.8" y2="342.71" stroke="#333" stroke-width="0.8"/>
<line x1="257.0" y1="337.79" x2="255.8" y2="337.79" stroke="#333" stroke-width="0.8"/>
<line x1="257.0" y1="332.88" x2="255.8" y2="332.88" stroke="#333" stroke-width="0.8"/>
<line x1="257.0" y1="327.97" x2="255.8" y2="327.97" stroke="#333" stroke-width="0.8"/>
<line x1="257.0" y1="323.05" x2="255.8" y2="323.05" stroke="#333" stroke-width="0.8"/>
<line x1="257.0" y1="318.14" x2="255.8" y2="318.14" stroke="#333" stroke-width="0.8"/>
<line x1="257.0" y1="313.23" x2="255.8" y2="313.23" stroke="#333" stroke-width="0.8"/>
<line x1="257.0" y1="308.31" x2="255.8" y2="308.31" stroke="#333" stroke-width="0.8"/>
<line x1="257.0" y1="303.40" x2="255.8" y2="303.40" stroke="#333" stroke-width="0.8"/>
<line x1="257.0" y1="298.49" x2="255.8" y2="298.49" stroke="#333" stroke-width="0.8"/>
<line x1="257.0" y1="293.57" x2="255.8" y2="293.57" stroke="#333" stroke-width="0.8"/>
<line x1="257.0" y1="288.66" x2="255.8" y2="288.66" stroke="#333" stroke-width="0.8"/>
<line x1="257.0" y1="283.75" x2="255.8" y2="283.75" stroke="#333" stroke-width="0.8"/>
<line x1="257.0" y1="278.83" x2="255.8" y2="278.83" stroke="#333" stroke-width="0.8"/>
<line x1="257.0" y1="273.92" x2="255.8" y2="273.92" stroke="#333" stroke-width="0.8"/>
<line x1="257.0" y1="269.01" x2="255.8" y2="269.01" stroke="#333" stroke-width="0.8"/>
<line x1="257.0" y1="264.09" x2="255.8" y2="264.09" stroke="#333" stroke-width="0.8"/>
<line x1="257.0" y1="259.18" x2="255.8" y2="259.18" stroke="#333" stroke-width="0.8"/>
<line x1="257.0" y1="254.27" x2="255.8" y2="254.27" stroke="#333" stroke-width="0.8"/>
<line x1="257.0" y1="249.35" x2="255.8" y2="249.35" stroke="#333" stroke-width="0.8"/>
<line x1="257.0" y1="244.44" x2="255.8" y2="244.44" stroke="#333" stroke-width="0.8"/>
<line x1="257.0" y1="239.53" x2="255.8" y2="239.53" stroke="#333" stroke-width="0.8"/>
<line x1="257.0" y1="234.61" x2="255.8" y2="234.61" stroke="#333" stroke-width="0.8"/>
<line x1="31.799999999999997" y1="229.7" x2="257.5" y2="229.7" stroke="#777" stroke-width="1.0"/>
<line x1="41.66" y1="229.7" x2="41.66" y2="230.89999999999998" stroke="#333" stroke-width="0.8"/>
<line x1="51.02" y1="229.7" x2="51.02" y2="230.89999999999998" stroke="#333" stroke-width="0.8"/>
<line x1="60.39" y1="229.7" x2="60.39" y2="230.89999999999998" stroke="#333" stroke-width="0.8"/>
<line x1="69.75" y1="229.7" x2="69.75" y2="230.89999999999998" stroke="#333" stroke-width="0.8"/>
<line x1="79.11" y1="229.7" x2="79.11" y2="230.89999999999998" stroke="#333" stroke-width="0.8"/>
<line x1="88.47" y1="229.7" x2="88.47" y2="230.89999999999998" stroke="#333" stroke-width="0.8"/>
<line x1="97.84" y1="229.7" x2="97.84" y2="230.89999999999998" stroke="#333" stroke-width="0.8"/>
<line x1="107.20" y1="229.7" x2="107.20" y2="230.89999999999998" stroke="#333" stroke-width="0.8"/>
<line x1="116.56" y1="229.7" x2="116.56" y2="230.89999999999998" stroke="#333" stroke-width="0.8"/>
<line x1="125.92" y1="229.7" x2="125.92" y2="230.89999999999998" stroke="#333" stroke-width="0.8"/>
<line x1="135.29" y1="229.7" x2="135.29" y2="230.89999999999998" stroke="#333" stroke-width="0.8"/>
<line x1="144.65" y1="229.7" x2="144.65" y2="230.89999999999998" stroke="#333" stroke-width="0.8"/>
<line x1="154.01" y1="229.7" x2="154.01" y2="230.89999999999998" stroke="#333" stroke-width="0.8"/>
<line x1="163.38" y1="229.7" x2="163.38" y2="230.89999999999998" stroke="#333" stroke-width="0.8"/>
<line x1="172.74" y1="229.7" x2="172.74" y2="230.89999999999998" stroke="#333" stroke-width="0.8"/>
<line x1="182.10" y1="229.7" x2="182.10" y2="230.89999999999998" stroke="#333" stroke-width="0.8"/>
<line x1="191.46" y1="229.7" x2="191.46" y2="230.89999999999998" stroke="#333" stroke-width="0.8"/>
<line x1="200.83" y1="229.7" x2="200.83" y2="230.89999999999998" stroke="#333" stroke-width="0.8"/>
<line x1="210.19" y1="229.7" x2="210.19" y2="230.89999999999998" stroke="#333" stroke-width="0.8"/>
<line x1="219.55" y1="229.7" x2="219.55" y2="230.89999999999998" stroke="#333" stroke-width="0.8"/>
<line x1="228.91" y1="229.7" x2="228.91" y2="230.89999999999998" stroke="#333" stroke-width="0.8"/>
<line x1="238.28" y1="229.7" x2="238.28" y2="230.89999999999998" stroke="#333" stroke-width="0.8"/>
<line x1="247.64" y1="229.7" x2="247.64" y2="230.89999999999998" stroke="#333" stroke-width="0.8"/>
<text x="32.30" y="385.8" font-size="6.6" text-anchor="middle">0.02</text>
<text x="51.02" y="385.8" font-size="6.6" text-anchor="middle">0.04</text>
<text x="69.75" y="385.8" font-size="6.6" text-anchor="middle">0.06</text>
<text x="88.47" y="385.8" font-size="6.6" text-anchor="middle">0.08</text>
<text x="107.20" y="385.8" font-size="6.6" text-anchor="middle">0.10</text>
<text x="125.92" y="385.8" font-size="6.6" text-anchor="middle">0.12</text>
<text x="144.65" y="385.8" font-size="6.6" text-anchor="middle">0.14</text>
<text x="163.38" y="385.8" font-size="6.6" text-anchor="middle">0.16</text>
<text x="182.10" y="385.8" font-size="6.6" text-anchor="middle">0.18</text>
<text x="200.82" y="385.8" font-size="6.6" text-anchor="middle">0.20</text>
<text x="219.55" y="385.8" font-size="6.6" text-anchor="middle">0.22</text>
<text x="238.27" y="385.8" font-size="6.6" text-anchor="middle">0.24</text>
<text x="257.00" y="385.8" font-size="6.6" text-anchor="middle">0.26</text>
<text x="29.5" y="379.00" font-size="6.6" text-anchor="end">0.00</text>
<text x="29.5" y="354.43" font-size="6.6" text-anchor="end">0.05</text>
<text x="29.5" y="329.87" font-size="6.6" text-anchor="end">0.10</text>
<text x="29.5" y="305.30" font-size="6.6" text-anchor="end">0.15</text>
<text x="29.5" y="280.73" font-size="6.6" text-anchor="end">0.20</text>
<text x="29.5" y="256.17" font-size="6.6" text-anchor="end">0.25</text>
<text x="29.5" y="231.60" font-size="6.6" text-anchor="end">0.30</text>
<text class="t" x="143.3" y="397" font-size="8.3" text-anchor="middle" textLength="46.8" lengthAdjust="spacingAndGlyphs">Predicted, nit</text>
<text class="t" transform="translate(14.0,298.9) rotate(-90)" font-size="8.3" text-anchor="middle" textLength="47.4" lengthAdjust="spacingAndGlyphs">Observed, nit</text>
<text class="p" x="133.6" y="417" font-size="12.3" text-anchor="middle" stroke="#222" stroke-width="0.2">(c)</text>
<clipPath id="cd"><rect x="310.5" y="229.7" width="227.29999999999995" height="143.5"/></clipPath>
<line x1="335.76" y1="229.7" x2="335.76" y2="373.2" stroke="#f4f4f4" stroke-width="0.8"/>
<line x1="361.01" y1="229.7" x2="361.01" y2="373.2" stroke="#f4f4f4" stroke-width="0.8"/>
<line x1="386.27" y1="229.7" x2="386.27" y2="373.2" stroke="#f4f4f4" stroke-width="0.8"/>
<line x1="411.52" y1="229.7" x2="411.52" y2="373.2" stroke="#f4f4f4" stroke-width="0.8"/>
<line x1="436.78" y1="229.7" x2="436.78" y2="373.2" stroke="#f4f4f4" stroke-width="0.8"/>
<line x1="462.03" y1="229.7" x2="462.03" y2="373.2" stroke="#f4f4f4" stroke-width="0.8"/>
<line x1="487.29" y1="229.7" x2="487.29" y2="373.2" stroke="#f4f4f4" stroke-width="0.8"/>
<line x1="512.54" y1="229.7" x2="512.54" y2="373.2" stroke="#f4f4f4" stroke-width="0.8"/>
<line x1="310.5" y1="358.85" x2="537.8" y2="358.85" stroke="#f4f4f4" stroke-width="0.8"/>
<line x1="310.5" y1="344.50" x2="537.8" y2="344.50" stroke="#f4f4f4" stroke-width="0.8"/>
<line x1="310.5" y1="330.15" x2="537.8" y2="330.15" stroke="#f4f4f4" stroke-width="0.8"/>
<line x1="310.5" y1="315.80" x2="537.8" y2="315.80" stroke="#f4f4f4" stroke-width="0.8"/>
<line x1="310.5" y1="301.45" x2="537.8" y2="301.45" stroke="#f4f4f4" stroke-width="0.8"/>
<line x1="310.5" y1="287.10" x2="537.8" y2="287.10" stroke="#f4f4f4" stroke-width="0.8"/>
<line x1="310.5" y1="272.75" x2="537.8" y2="272.75" stroke="#f4f4f4" stroke-width="0.8"/>
<line x1="310.5" y1="258.40" x2="537.8" y2="258.40" stroke="#f4f4f4" stroke-width="0.8"/>
<line x1="310.5" y1="244.05" x2="537.8" y2="244.05" stroke="#f4f4f4" stroke-width="0.8"/>
<line x1="314.9" y1="373.2" x2="537.8" y2="242.5" stroke="#ff3c3c" stroke-width="1.0" clip-path="url(#cd)"/>
<polyline points="310.50,360.40 312.41,359.50 314.32,358.61 316.23,357.71 318.14,356.82 320.05,355.92 321.96,355.02 323.87,354.12 325.78,353.22 327.69,352.32 329.60,351.41 331.51,350.51 333.42,349.60 335.33,348.70 337.24,347.79 339.15,346.88 341.06,345.97 342.97,345.05 344.88,344.14 346.79,343.22 348.70,342.30 350.61,341.38 352.52,340.46 354.43,339.53 356.34,338.61 358.25,337.67 360.16,336.74 362.07,335.80 363.98,334.87 365.89,333.92 367.80,332.98 369.71,332.03 371.62,331.07 373.53,330.11 375.44,329.15 377.35,328.19 379.26,327.21 381.17,326.24 383.08,325.26 384.99,324.27 386.90,323.27 388.81,322.27 390.72,321.27 392.63,320.25 394.54,319.23 396.45,318.21 398.36,317.17 400.27,316.13 402.18,315.08 404.09,314.01 406.00,312.95 407.91,311.87 409.82,310.78 411.73,309.68 413.64,308.58 415.55,307.46 417.46,306.34 419.37,305.20 421.28,304.06 423.19,302.91 425.11,301.75 427.02,300.58 428.93,299.40 430.84,298.21 432.75,297.01 434.66,295.81 436.57,294.60 438.48,293.38 440.39,292.15 442.30,290.92 444.21,289.68 446.12,288.43 448.03,287.18 449.94,285.92 451.85,284.66 453.76,283.39 455.67,282.12 457.58,280.84 459.49,279.56 461.40,278.27 463.31,276.98 465.22,275.69 467.13,274.39 469.04,273.09 470.95,271.79 472.86,270.48 474.77,269.17 476.68,267.86 478.59,266.54 480.50,265.23 482.41,263.91 484.32,262.59 486.23,261.26 488.14,259.94 490.05,258.61 491.96,257.28 493.87,255.95 495.78,254.62 497.69,253.29 499.60,251.96 501.51,250.62 503.42,249.28 505.33,247.94 507.24,246.61 509.15,245.26 511.06,243.92 512.97,242.58 514.88,241.24 516.79,239.89 518.70,238.55 520.61,237.20 522.52,235.86 524.43,234.51 526.34,233.16 528.25,231.81 530.16,230.46 532.07,229.11 533.98,227.76 535.89,226.41 537.80,225.06" fill="none" stroke="#ff3c3c" stroke-width="1.0" stroke-dasharray="3.2,2.3" clip-path="url(#cd)"/>
<polyline points="310.50,391.16 312.41,389.82 314.32,388.47 316.23,387.13 318.14,385.78 320.05,384.44 321.96,383.10 323.87,381.76 325.78,380.42 327.69,379.08 329.60,377.75 331.51,376.41 333.42,375.08 335.33,373.74 337.24,372.41 339.15,371.08 341.06,369.75 342.97,368.43 344.88,367.10 346.79,365.78 348.70,364.46 350.61,363.14 352.52,361.82 354.43,360.51 356.34,359.19 358.25,357.89 360.16,356.58 362.07,355.28 363.98,353.97 365.89,352.68 367.80,351.38 369.71,350.09 371.62,348.81 373.53,347.53 375.44,346.25 377.35,344.97 379.26,343.71 381.17,342.44 383.08,341.18 384.99,339.93 386.90,338.69 388.81,337.45 390.72,336.21 392.63,334.99 394.54,333.77 396.45,332.55 398.36,331.35 400.27,330.15 402.18,328.96 404.09,327.79 406.00,326.61 407.91,325.45 409.82,324.30 411.73,323.16 413.64,322.02 415.55,320.90 417.46,319.78 419.37,318.68 421.28,317.58 423.19,316.49 425.11,315.41 427.02,314.34 428.93,313.28 430.84,312.23 432.75,311.19 434.66,310.15 436.57,309.12 438.48,308.10 440.39,307.09 442.30,306.08 444.21,305.08 446.12,304.09 448.03,303.10 449.94,302.12 451.85,301.14 453.76,300.17 455.67,299.20 457.58,298.24 459.49,297.28 461.40,296.33 463.31,295.38 465.22,294.43 467.13,293.49 469.04,292.55 470.95,291.61 472.86,290.68 474.77,289.75 476.68,288.82 478.59,287.90 480.50,286.97 482.41,286.05 484.32,285.13 486.23,284.22 488.14,283.30 490.05,282.39 491.96,281.48 493.87,280.57 495.78,279.66 497.69,278.75 499.60,277.84 501.51,276.94 503.42,276.04 505.33,275.14 507.24,274.23 509.15,273.34 511.06,272.44 512.97,271.54 514.88,270.64 516.79,269.75 518.70,268.85 520.61,267.96 522.52,267.06 524.43,266.17 526.34,265.28 528.25,264.39 530.16,263.50 532.07,262.61 533.98,261.72 535.89,260.83 537.80,259.94" fill="none" stroke="#ff3c3c" stroke-width="1.0" stroke-dasharray="3.2,2.3" clip-path="url(#cd)"/>
<polyline points="394.00,329.70 393.10,328.60 341.40,354.00 340.00,351.00 332.40,358.60" fill="none" stroke="#3b4bff" stroke-width="1.0" stroke-linejoin="round"/>
<polyline points="340.00,351.00 391.80,341.70 398.30,322.90 401.00,318.80 407.80,326.50 414.70,331.10 425.30,328.60 424.70,318.80 429.60,283.80 449.30,282.30 453.20,264.80 443.30,279.40 519.20,253.70 516.60,261.60 450.50,298.60 398.30,322.90" fill="none" stroke="#3b4bff" stroke-width="1.0" stroke-linejoin="round"/>
<circle cx="332.40" cy="358.60" r="1.5" fill="#0000ff"/>
<circle cx="340.00" cy="351.00" r="1.5" fill="#0000ff"/>
<circle cx="341.40" cy="354.00" r="1.5" fill="#0000ff"/>
<circle cx="391.80" cy="341.70" r="1.5" fill="#0000ff"/>
<circle cx="393.10" cy="328.60" r="1.5" fill="#0000ff"/>
<circle cx="394.00" cy="329.70" r="1.5" fill="#0000ff"/>
<circle cx="398.30" cy="322.90" r="1.5" fill="#0000ff"/>
<circle cx="401.00" cy="318.80" r="1.5" fill="#0000ff"/>
<circle cx="407.80" cy="326.50" r="1.5" fill="#0000ff"/>
<circle cx="414.70" cy="331.10" r="1.5" fill="#0000ff"/>
<circle cx="425.30" cy="328.60" r="1.5" fill="#0000ff"/>
<circle cx="424.70" cy="318.80" r="1.5" fill="#0000ff"/>
<circle cx="429.60" cy="283.80" r="1.5" fill="#0000ff"/>
<circle cx="449.30" cy="282.30" r="1.5" fill="#0000ff"/>
<circle cx="443.30" cy="279.40" r="1.5" fill="#0000ff"/>
<circle cx="453.20" cy="264.80" r="1.5" fill="#0000ff"/>
<circle cx="450.50" cy="298.60" r="1.5" fill="#0000ff"/>
<circle cx="519.20" cy="253.70" r="1.5" fill="#0000ff"/>
<circle cx="516.60" cy="261.60" r="1.5" fill="#0000ff"/>
<line x1="310.5" y1="229.7" x2="310.5" y2="373.2" stroke="#333" stroke-width="1.1"/>
<line x1="310.5" y1="373.20" x2="311.9" y2="373.20" stroke="#111" stroke-width="0.9"/>
<line x1="310.5" y1="358.85" x2="311.9" y2="358.85" stroke="#111" stroke-width="0.9"/>
<line x1="310.5" y1="344.50" x2="311.9" y2="344.50" stroke="#111" stroke-width="0.9"/>
<line x1="310.5" y1="330.15" x2="311.9" y2="330.15" stroke="#111" stroke-width="0.9"/>
<line x1="310.5" y1="315.80" x2="311.9" y2="315.80" stroke="#111" stroke-width="0.9"/>
<line x1="310.5" y1="301.45" x2="311.9" y2="301.45" stroke="#111" stroke-width="0.9"/>
<line x1="310.5" y1="287.10" x2="311.9" y2="287.10" stroke="#111" stroke-width="0.9"/>
<line x1="310.5" y1="272.75" x2="311.9" y2="272.75" stroke="#111" stroke-width="0.9"/>
<line x1="310.5" y1="258.40" x2="311.9" y2="258.40" stroke="#111" stroke-width="0.9"/>
<line x1="310.5" y1="244.05" x2="311.9" y2="244.05" stroke="#111" stroke-width="0.9"/>
<line x1="310.5" y1="229.70" x2="311.9" y2="229.70" stroke="#111" stroke-width="0.9"/>
<line x1="309.95" y1="373.2" x2="538.3499999999999" y2="373.2" stroke="#444" stroke-width="0.9"/>
<line x1="316.81" y1="373.2" x2="316.81" y2="372.0" stroke="#333" stroke-width="0.6"/>
<line x1="323.13" y1="373.2" x2="323.13" y2="372.0" stroke="#333" stroke-width="0.6"/>
<line x1="329.44" y1="373.2" x2="329.44" y2="372.0" stroke="#333" stroke-width="0.6"/>
<line x1="335.76" y1="373.2" x2="335.76" y2="372.0" stroke="#333" stroke-width="0.6"/>
<line x1="342.07" y1="373.2" x2="342.07" y2="372.0" stroke="#333" stroke-width="0.6"/>
<line x1="348.38" y1="373.2" x2="348.38" y2="372.0" stroke="#333" stroke-width="0.6"/>
<line x1="354.70" y1="373.2" x2="354.70" y2="372.0" stroke="#333" stroke-width="0.6"/>
<line x1="361.01" y1="373.2" x2="361.01" y2="372.0" stroke="#333" stroke-width="0.6"/>
<line x1="367.32" y1="373.2" x2="367.32" y2="372.0" stroke="#333" stroke-width="0.6"/>
<line x1="373.64" y1="373.2" x2="373.64" y2="372.0" stroke="#333" stroke-width="0.6"/>
<line x1="379.95" y1="373.2" x2="379.95" y2="372.0" stroke="#333" stroke-width="0.6"/>
<line x1="386.27" y1="373.2" x2="386.27" y2="372.0" stroke="#333" stroke-width="0.6"/>
<line x1="392.58" y1="373.2" x2="392.58" y2="372.0" stroke="#333" stroke-width="0.6"/>
<line x1="398.89" y1="373.2" x2="398.89" y2="372.0" stroke="#333" stroke-width="0.6"/>
<line x1="405.21" y1="373.2" x2="405.21" y2="372.0" stroke="#333" stroke-width="0.6"/>
<line x1="411.52" y1="373.2" x2="411.52" y2="372.0" stroke="#333" stroke-width="0.6"/>
<line x1="417.84" y1="373.2" x2="417.84" y2="372.0" stroke="#333" stroke-width="0.6"/>
<line x1="424.15" y1="373.2" x2="424.15" y2="372.0" stroke="#333" stroke-width="0.6"/>
<line x1="430.46" y1="373.2" x2="430.46" y2="372.0" stroke="#333" stroke-width="0.6"/>
<line x1="436.78" y1="373.2" x2="436.78" y2="372.0" stroke="#333" stroke-width="0.6"/>
<line x1="443.09" y1="373.2" x2="443.09" y2="372.0" stroke="#333" stroke-width="0.6"/>
<line x1="449.41" y1="373.2" x2="449.41" y2="372.0" stroke="#333" stroke-width="0.6"/>
<line x1="455.72" y1="373.2" x2="455.72" y2="372.0" stroke="#333" stroke-width="0.6"/>
<line x1="462.03" y1="373.2" x2="462.03" y2="372.0" stroke="#333" stroke-width="0.6"/>
<line x1="468.35" y1="373.2" x2="468.35" y2="372.0" stroke="#333" stroke-width="0.6"/>
<line x1="474.66" y1="373.2" x2="474.66" y2="372.0" stroke="#333" stroke-width="0.6"/>
<line x1="480.97" y1="373.2" x2="480.97" y2="372.0" stroke="#333" stroke-width="0.6"/>
<line x1="487.29" y1="373.2" x2="487.29" y2="372.0" stroke="#333" stroke-width="0.6"/>
<line x1="493.60" y1="373.2" x2="493.60" y2="372.0" stroke="#333" stroke-width="0.6"/>
<line x1="499.92" y1="373.2" x2="499.92" y2="372.0" stroke="#333" stroke-width="0.6"/>
<line x1="506.23" y1="373.2" x2="506.23" y2="372.0" stroke="#333" stroke-width="0.6"/>
<line x1="512.54" y1="373.2" x2="512.54" y2="372.0" stroke="#333" stroke-width="0.6"/>
<line x1="518.86" y1="373.2" x2="518.86" y2="372.0" stroke="#333" stroke-width="0.6"/>
<line x1="525.17" y1="373.2" x2="525.17" y2="372.0" stroke="#333" stroke-width="0.6"/>
<line x1="531.49" y1="373.2" x2="531.49" y2="372.0" stroke="#333" stroke-width="0.6"/>
<line x1="537.8" y1="229.7" x2="537.8" y2="373.2" stroke="#555" stroke-width="1.1"/>
<line x1="537.8" y1="369.61" x2="536.5999999999999" y2="369.61" stroke="#222" stroke-width="0.7"/>
<line x1="537.8" y1="366.02" x2="536.5999999999999" y2="366.02" stroke="#222" stroke-width="0.7"/>
<line x1="537.8" y1="362.44" x2="536.5999999999999" y2="362.44" stroke="#222" stroke-width="0.7"/>
<line x1="537.8" y1="358.85" x2="536.5999999999999" y2="358.85" stroke="#222" stroke-width="0.7"/>
<line x1="537.8" y1="355.26" x2="536.5999999999999" y2="355.26" stroke="#222" stroke-width="0.7"/>
<line x1="537.8" y1="351.68" x2="536.5999999999999" y2="351.68" stroke="#222" stroke-width="0.7"/>
<line x1="537.8" y1="348.09" x2="536.5999999999999" y2="348.09" stroke="#222" stroke-width="0.7"/>
<line x1="537.8" y1="344.50" x2="536.5999999999999" y2="344.50" stroke="#222" stroke-width="0.7"/>
<line x1="537.8" y1="340.91" x2="536.5999999999999" y2="340.91" stroke="#222" stroke-width="0.7"/>
<line x1="537.8" y1="337.32" x2="536.5999999999999" y2="337.32" stroke="#222" stroke-width="0.7"/>
<line x1="537.8" y1="333.74" x2="536.5999999999999" y2="333.74" stroke="#222" stroke-width="0.7"/>
<line x1="537.8" y1="330.15" x2="536.5999999999999" y2="330.15" stroke="#222" stroke-width="0.7"/>
<line x1="537.8" y1="326.56" x2="536.5999999999999" y2="326.56" stroke="#222" stroke-width="0.7"/>
<line x1="537.8" y1="322.97" x2="536.5999999999999" y2="322.97" stroke="#222" stroke-width="0.7"/>
<line x1="537.8" y1="319.39" x2="536.5999999999999" y2="319.39" stroke="#222" stroke-width="0.7"/>
<line x1="537.8" y1="315.80" x2="536.5999999999999" y2="315.80" stroke="#222" stroke-width="0.7"/>
<line x1="537.8" y1="312.21" x2="536.5999999999999" y2="312.21" stroke="#222" stroke-width="0.7"/>
<line x1="537.8" y1="308.62" x2="536.5999999999999" y2="308.62" stroke="#222" stroke-width="0.7"/>
<line x1="537.8" y1="305.04" x2="536.5999999999999" y2="305.04" stroke="#222" stroke-width="0.7"/>
<line x1="537.8" y1="301.45" x2="536.5999999999999" y2="301.45" stroke="#222" stroke-width="0.7"/>
<line x1="537.8" y1="297.86" x2="536.5999999999999" y2="297.86" stroke="#222" stroke-width="0.7"/>
<line x1="537.8" y1="294.27" x2="536.5999999999999" y2="294.27" stroke="#222" stroke-width="0.7"/>
<line x1="537.8" y1="290.69" x2="536.5999999999999" y2="290.69" stroke="#222" stroke-width="0.7"/>
<line x1="537.8" y1="287.10" x2="536.5999999999999" y2="287.10" stroke="#222" stroke-width="0.7"/>
<line x1="537.8" y1="283.51" x2="536.5999999999999" y2="283.51" stroke="#222" stroke-width="0.7"/>
<line x1="537.8" y1="279.92" x2="536.5999999999999" y2="279.92" stroke="#222" stroke-width="0.7"/>
<line x1="537.8" y1="276.34" x2="536.5999999999999" y2="276.34" stroke="#222" stroke-width="0.7"/>
<line x1="537.8" y1="272.75" x2="536.5999999999999" y2="272.75" stroke="#222" stroke-width="0.7"/>
<line x1="537.8" y1="269.16" x2="536.5999999999999" y2="269.16" stroke="#222" stroke-width="0.7"/>
<line x1="537.8" y1="265.57" x2="536.5999999999999" y2="265.57" stroke="#222" stroke-width="0.7"/>
<line x1="537.8" y1="261.99" x2="536.5999999999999" y2="261.99" stroke="#222" stroke-width="0.7"/>
<line x1="537.8" y1="258.40" x2="536.5999999999999" y2="258.40" stroke="#222" stroke-width="0.7"/>
<line x1="537.8" y1="254.81" x2="536.5999999999999" y2="254.81" stroke="#222" stroke-width="0.7"/>
<line x1="537.8" y1="251.22" x2="536.5999999999999" y2="251.22" stroke="#222" stroke-width="0.7"/>
<line x1="537.8" y1="247.64" x2="536.5999999999999" y2="247.64" stroke="#222" stroke-width="0.7"/>
<line x1="537.8" y1="244.05" x2="536.5999999999999" y2="244.05" stroke="#222" stroke-width="0.7"/>
<line x1="537.8" y1="240.46" x2="536.5999999999999" y2="240.46" stroke="#222" stroke-width="0.7"/>
<line x1="537.8" y1="236.88" x2="536.5999999999999" y2="236.88" stroke="#222" stroke-width="0.7"/>
<line x1="537.8" y1="233.29" x2="536.5999999999999" y2="233.29" stroke="#222" stroke-width="0.7"/>
<line x1="309.95" y1="229.7" x2="538.3499999999999" y2="229.7" stroke="#444" stroke-width="1.1"/>
<line x1="316.81" y1="229.7" x2="316.81" y2="230.89999999999998" stroke="#222" stroke-width="0.7"/>
<line x1="323.13" y1="229.7" x2="323.13" y2="230.89999999999998" stroke="#222" stroke-width="0.7"/>
<line x1="329.44" y1="229.7" x2="329.44" y2="230.89999999999998" stroke="#222" stroke-width="0.7"/>
<line x1="335.76" y1="229.7" x2="335.76" y2="230.89999999999998" stroke="#222" stroke-width="0.7"/>
<line x1="342.07" y1="229.7" x2="342.07" y2="230.89999999999998" stroke="#222" stroke-width="0.7"/>
<line x1="348.38" y1="229.7" x2="348.38" y2="230.89999999999998" stroke="#222" stroke-width="0.7"/>
<line x1="354.70" y1="229.7" x2="354.70" y2="230.89999999999998" stroke="#222" stroke-width="0.7"/>
<line x1="361.01" y1="229.7" x2="361.01" y2="230.89999999999998" stroke="#222" stroke-width="0.7"/>
<line x1="367.32" y1="229.7" x2="367.32" y2="230.89999999999998" stroke="#222" stroke-width="0.7"/>
<line x1="373.64" y1="229.7" x2="373.64" y2="230.89999999999998" stroke="#222" stroke-width="0.7"/>
<line x1="379.95" y1="229.7" x2="379.95" y2="230.89999999999998" stroke="#222" stroke-width="0.7"/>
<line x1="386.27" y1="229.7" x2="386.27" y2="230.89999999999998" stroke="#222" stroke-width="0.7"/>
<line x1="392.58" y1="229.7" x2="392.58" y2="230.89999999999998" stroke="#222" stroke-width="0.7"/>
<line x1="398.89" y1="229.7" x2="398.89" y2="230.89999999999998" stroke="#222" stroke-width="0.7"/>
<line x1="405.21" y1="229.7" x2="405.21" y2="230.89999999999998" stroke="#222" stroke-width="0.7"/>
<line x1="411.52" y1="229.7" x2="411.52" y2="230.89999999999998" stroke="#222" stroke-width="0.7"/>
<line x1="417.84" y1="229.7" x2="417.84" y2="230.89999999999998" stroke="#222" stroke-width="0.7"/>
<line x1="424.15" y1="229.7" x2="424.15" y2="230.89999999999998" stroke="#222" stroke-width="0.7"/>
<line x1="430.46" y1="229.7" x2="430.46" y2="230.89999999999998" stroke="#222" stroke-width="0.7"/>
<line x1="436.78" y1="229.7" x2="436.78" y2="230.89999999999998" stroke="#222" stroke-width="0.7"/>
<line x1="443.09" y1="229.7" x2="443.09" y2="230.89999999999998" stroke="#222" stroke-width="0.7"/>
<line x1="449.41" y1="229.7" x2="449.41" y2="230.89999999999998" stroke="#222" stroke-width="0.7"/>
<line x1="455.72" y1="229.7" x2="455.72" y2="230.89999999999998" stroke="#222" stroke-width="0.7"/>
<line x1="462.03" y1="229.7" x2="462.03" y2="230.89999999999998" stroke="#222" stroke-width="0.7"/>
<line x1="468.35" y1="229.7" x2="468.35" y2="230.89999999999998" stroke="#222" stroke-width="0.7"/>
<line x1="474.66" y1="229.7" x2="474.66" y2="230.89999999999998" stroke="#222" stroke-width="0.7"/>
<line x1="480.97" y1="229.7" x2="480.97" y2="230.89999999999998" stroke="#222" stroke-width="0.7"/>
<line x1="487.29" y1="229.7" x2="487.29" y2="230.89999999999998" stroke="#222" stroke-width="0.7"/>
<line x1="493.60" y1="229.7" x2="493.60" y2="230.89999999999998" stroke="#222" stroke-width="0.7"/>
<line x1="499.92" y1="229.7" x2="499.92" y2="230.89999999999998" stroke="#222" stroke-width="0.7"/>
<line x1="506.23" y1="229.7" x2="506.23" y2="230.89999999999998" stroke="#222" stroke-width="0.7"/>
<line x1="512.54" y1="229.7" x2="512.54" y2="230.89999999999998" stroke="#222" stroke-width="0.7"/>
<line x1="518.86" y1="229.7" x2="518.86" y2="230.89999999999998" stroke="#222" stroke-width="0.7"/>
<line x1="525.17" y1="229.7" x2="525.17" y2="230.89999999999998" stroke="#222" stroke-width="0.7"/>
<line x1="531.49" y1="229.7" x2="531.49" y2="230.89999999999998" stroke="#222" stroke-width="0.7"/>
<text x="310.50" y="381.0" font-size="6.0" text-anchor="middle">0</text>
<text x="335.76" y="381.0" font-size="6.0" text-anchor="middle">1</text>
<text x="361.01" y="381.0" font-size="6.0" text-anchor="middle">2</text>
<text x="386.27" y="381.0" font-size="6.0" text-anchor="middle">3</text>
<text x="411.52" y="381.0" font-size="6.0" text-anchor="middle">4</text>
<text x="436.78" y="381.0" font-size="6.0" text-anchor="middle">5</text>
<text x="462.03" y="381.0" font-size="6.0" text-anchor="middle">6</text>
<text x="487.29" y="381.0" font-size="6.0" text-anchor="middle">7</text>
<text x="512.54" y="381.0" font-size="6.0" text-anchor="middle">8</text>
<text x="537.80" y="381.0" font-size="6.0" text-anchor="middle">9</text>
<text x="308.0" y="374.90" font-size="6.0" text-anchor="end">0</text>
<text x="308.0" y="360.55" font-size="6.0" text-anchor="end">1</text>
<text x="308.0" y="346.20" font-size="6.0" text-anchor="end">2</text>
<text x="308.0" y="331.85" font-size="6.0" text-anchor="end">3</text>
<text x="308.0" y="317.50" font-size="6.0" text-anchor="end">4</text>
<text x="308.0" y="303.15" font-size="6.0" text-anchor="end">5</text>
<text x="308.0" y="288.80" font-size="6.0" text-anchor="end">6</text>
<text x="308.0" y="274.45" font-size="6.0" text-anchor="end">7</text>
<text x="308.0" y="260.10" font-size="6.0" text-anchor="end">8</text>
<text x="308.0" y="245.75" font-size="6.0" text-anchor="end">9</text>
<text x="308.0" y="231.40" font-size="6.0" text-anchor="end">10</text>
<text class="t" x="424.5" y="392.5" font-size="8.3" text-anchor="middle" textLength="53.6" lengthAdjust="spacingAndGlyphs">Predicted, W/m<tspan font-size="5.5" dy="-3">2</tspan></text>
<text class="t" transform="translate(297.5,293.7) rotate(-90)" font-size="8.3" text-anchor="middle" textLength="54.6" lengthAdjust="spacingAndGlyphs">Observed, W/m<tspan font-size="5.5" dy="-3">2</tspan></text>
<text class="p" x="414" y="412.3" font-size="12.3" text-anchor="middle" stroke="#222" stroke-width="0.2">(<tspan font-weight="bold">d</tspan>)</text>
</svg>
</body></html>
